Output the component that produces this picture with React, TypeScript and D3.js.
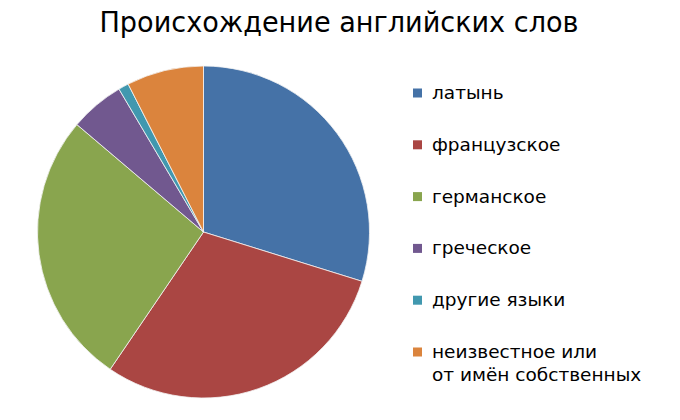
import React from "react";
import * as d3 from "d3";

const labels = [
  "латынь",
  "французское",
  "германское",
  "греческое",
  "другие языки",
  "неизвестное или\nот имён собственных",
];
const values = [29.8, 29.7, 26.7, 5.3, 1.0, 7.5];
const colors = ["#4572A7", "#AA4643", "#89A54E", "#71588F", "#4198AF", "#DB843D"];

const App: React.FC = () => {
  const width = 680;
  const height = 420;
  const cx = 203.5;
  const cy = 232;
  const radius = 166;

  const pie = d3
    .pie<number>()
    .sort(null)
    .value((d) => d);
  const arcs = pie(values);
  const arc = d3.arc<d3.PieArcDatum<number>>().innerRadius(0).outerRadius(radius);

  // Legend rows
  const legendX = 413;
  const legendY = d3.scalePoint<number>().domain(d3.range(labels.length)).range([93, 352]);

  return (
    <svg
      width={width}
      height={height}
      style={{ position: "absolute", left: 0, top: 0, background: "#fff" }}
      fontFamily="'DejaVu Sans', 'Liberation Sans', Arial, sans-serif"
    >
      <text x={339} y={32} textAnchor="middle" fontSize={28} fill="#000" textLength={479} lengthAdjust="spacingAndGlyphs">
        Происхождение английских слов
      </text>
      <g transform={`translate(${cx},${cy})`}>
        {arcs.map((a, i) => (
          <path key={i} d={arc(a) ?? ""} fill={colors[i]} stroke="#f4f4f4" strokeWidth={0.8} />
        ))}
      </g>
      <g>
        {labels.map((l, i) => {
          const y = legendY(i) ?? 0;
          const lines = l.split("\n");
          return (
            <g key={i}>
              <rect x={legendX} y={y - 4.5} width={9} height={9} fill={colors[i]} />
              {lines.map((t, j) => (
                <text key={j} x={432} y={y + 6 + j * 23} fontSize={18.5} fill="#000">
                  {t}
                </text>
              ))}
            </g>
          );
        })}
      </g>
    </svg>
  );
};

export default App;
